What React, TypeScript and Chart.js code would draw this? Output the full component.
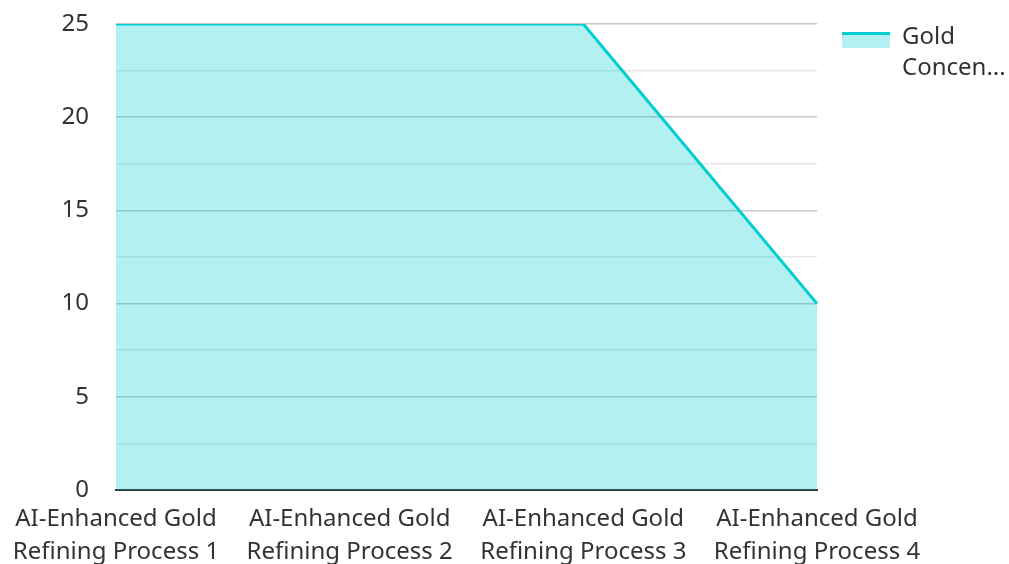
import React, { useEffect, useRef } from "react";
import { Chart, registerables } from "chart.js";

Chart.register(...registerables);

const categories: string[][] = [
  ["AI-Enhanced Gold", "Refining Process 1"],
  ["AI-Enhanced Gold", "Refining Process 2"],
  ["AI-Enhanced Gold", "Refining Process 3"],
  ["AI-Enhanced Gold", "Refining Process 4"],
];
const goldValues: number[] = [25, 25, 25, 10];
const seriesLabel = "Gold Concentration";
const legendLines: string[] = ["Gold", "Concen..."];
const yMin = 0;
const yMax = 25;
const yStep = 2.5;
const yLabelStep = 5;

const LINE = "#00CED1";
const FILL = "rgba(0, 206, 209, 0.3)";
const TEXT = "#333333";
const FONT = "'Noto Sans', sans-serif";

export default function App() {
  const ref = useRef<HTMLCanvasElement | null>(null);

  useEffect(() => {
    document.body.style.margin = "0";
    const canvas = ref.current;
    if (!canvas) return;

    const legendPlugin = {
      id: "customLegend",
      afterDraw(chart: any) {
        const ctx = chart.ctx;
        const x = chart.chartArea.right + 25;
        const y = chart.chartArea.top + 8;
        ctx.save();
        ctx.fillStyle = FILL;
        ctx.fillRect(x, y + 2, 48, 14);
        ctx.fillStyle = LINE;
        ctx.fillRect(x, y, 48, 3);
        ctx.fillStyle = TEXT;
        ctx.font = `24px ${FONT}`;
        ctx.textBaseline = "alphabetic";
        ctx.textAlign = "left";
        legendLines.forEach((t, i) => {
          ctx.fillText(t, x + 60, y + 12 + i * 31);
        });
        ctx.restore();
      },
    };

    const chart = new Chart(canvas, {
      type: "line",
      data: {
        labels: categories,
        datasets: [
          {
            label: seriesLabel,
            data: goldValues,
            borderColor: LINE,
            backgroundColor: FILL,
            borderWidth: 3,
            fill: "origin",
            pointRadius: 0,
            tension: 0,
          },
        ],
      },
      options: {
        responsive: false,
        animation: false,
        layout: { padding: { top: 24, right: 192, left: 0, bottom: 0 } },
        plugins: {
          legend: { display: false },
          tooltip: { enabled: false },
        },
        scales: {
          x: {
            offset: false,
            grid: { display: false, drawTicks: false },
            border: { display: true, color: "#333333", width: 2 },
            ticks: {
              color: TEXT,
              font: { family: FONT, size: 24, lineHeight: 1.4 },
              padding: 12,
              maxRotation: 0,
              autoSkip: false,
            },
            afterFit(scale: any) {
              scale.height = 74;
              scale.paddingLeft = 0;
              scale.paddingRight = 0;
            },
          },
          y: {
            min: yMin,
            max: yMax,
            grid: {
              drawTicks: false,
              color: (c: any) =>
                c.tick && c.tick.value % yLabelStep === 0 ? "#c8c8c8" : "#e6e6e6",
              lineWidth: 1.5,
            },
            border: { display: false },
            ticks: {
              stepSize: yStep,
              color: TEXT,
              font: { family: FONT, size: 24 },
              padding: 27,
              callback: (v: any) => (Number(v) % yLabelStep === 0 ? String(v) : ""),
            },
            afterFit(scale: any) {
              scale.width = 116;
              scale.paddingTop = 0;
              scale.paddingBottom = 0;
            },
          },
        },
      },
      plugins: [legendPlugin],
    });

    return () => chart.destroy();
  }, []);

  return (
    <div style={{ position: "absolute", left: 0, top: 0, width: 1009, height: 564, overflow: "hidden" }}>
      <canvas ref={ref} width={1009} height={564} style={{ display: "block" }} />
    </div>
  );
}
